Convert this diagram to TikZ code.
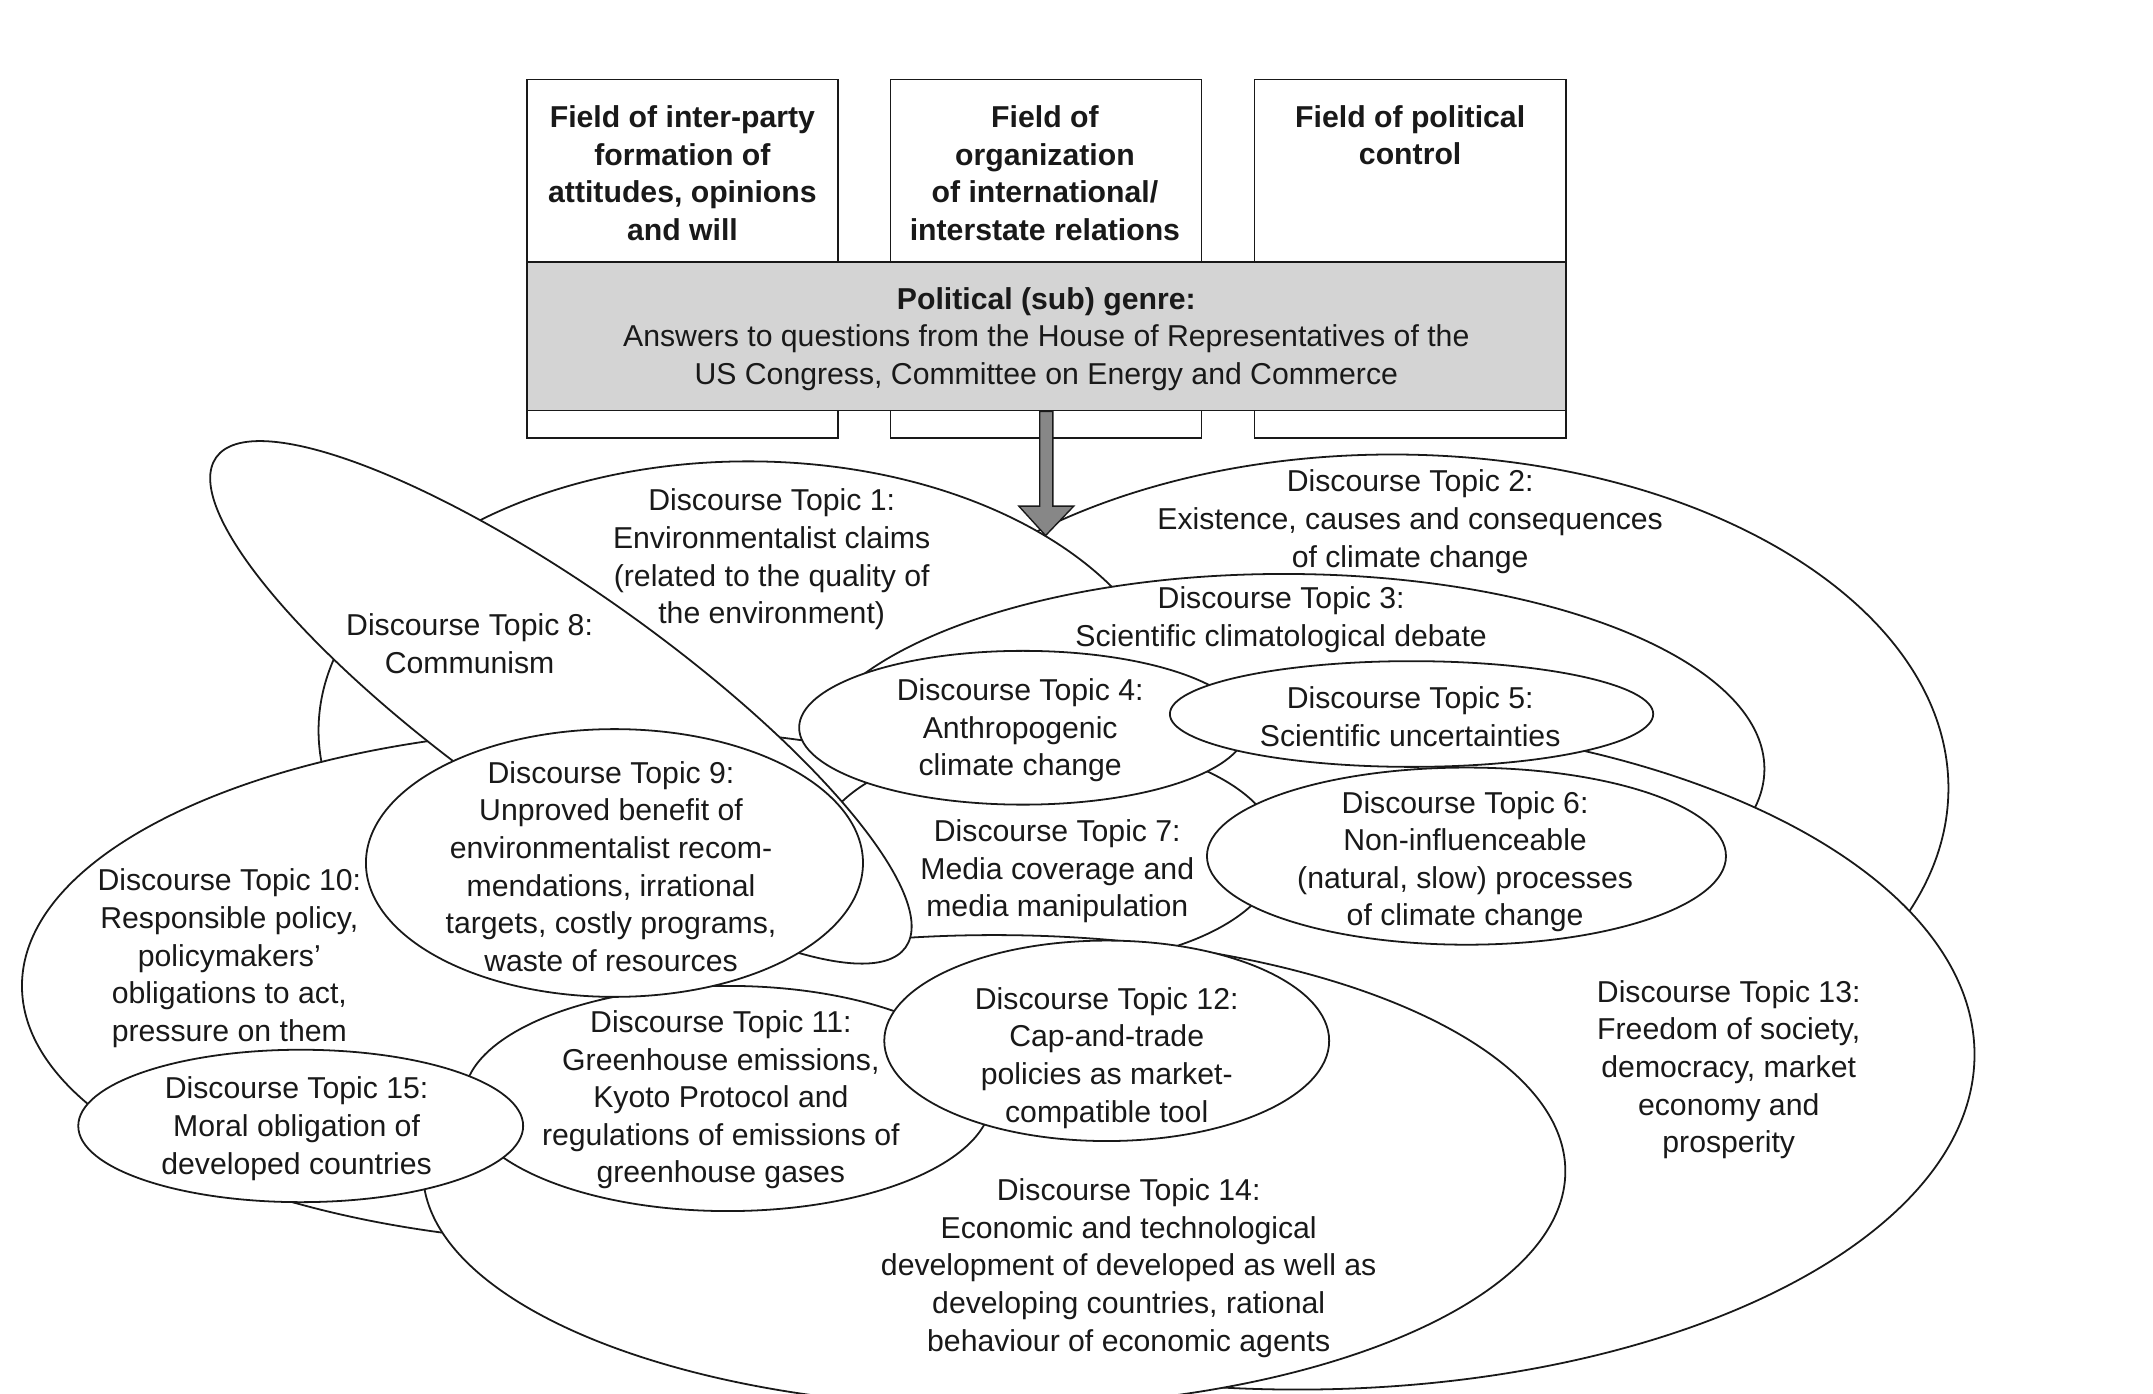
\documentclass[tikz,border=0pt]{standalone}
\usepackage{fontspec}
\setmainfont{Liberation Sans}
\usetikzlibrary{calc}
\definecolor{linecol}{RGB}{25,25,25}
\definecolor{genrefill}{RGB}{212,212,212}
\definecolor{arrowfill}{RGB}{135,135,135}
\definecolor{txtcol}{RGB}{25,25,25}
\begin{document}
\begin{tikzpicture}[x=1pt,y=-1pt,
  ell/.style={draw=linecol,fill=white,line width=1.3pt},
  lbl/.style={align=center,font=\fontsize{22}{27.4}\selectfont,inner sep=0pt,text=txtcol},
  fieldlbl/.style={align=center,font=\fontsize{22}{27.4}\selectfont\bfseries,inner sep=0pt,text=txtcol},
  colbox/.style={draw=linecol,fill=white,line width=1.2pt,minimum width=226.5pt,minimum height=261pt,inner sep=0pt},
  genrebox/.style={draw=linecol,fill=genrefill,line width=1.2pt,minimum width=756pt,minimum height=108pt,inner sep=0pt},
  arrowst/.style={draw=linecol,fill=arrowfill,line width=1pt,line join=miter}]
\fill[white] (0,0) rectangle (1568,1015);
\useasboundingbox (0,0) rectangle (1568,1015);

% field columns and genre box
\node[colbox] (col1) at (497.25,188.5) {};
\node[colbox] (col2) at (761.75,188.5) {};
\node[colbox] (col3) at (1027,188.5) {};
\node[genrebox] (genre) at (762,245) {};
\node[lbl] (genret) at (762,247) {\textbf{Political (sub) genre:}\\Answers to questions from the House of Representatives of the\\US Congress, Committee on Energy and Commerce};
\node[fieldlbl] (f1) at (497,126) {Field of inter-party\\formation of\\attitudes, opinions\\and will};
\node[fieldlbl] (f2) at (761,126) {Field of\\organization\\of international/\\interstate relations};
\node[fieldlbl] (f3) at (1027,98.5) {Field of political\\control};

% discourse topic ellipses (back to front)
\draw[ell] (1014,574) ellipse [x radius=405, y radius=243];   % 2
\draw[ell] (545,532) ellipse [x radius=313, y radius=196];    % 1
\draw[ell] (935,560) ellipse [x radius=350, y radius=142];    % 3
\draw[ell] (450,718) ellipse [x radius=434, y radius=188];    % 10
\draw[ell] (945,768) ellipse [x radius=493, y radius=244];    % 13
\draw[ell] (763,621) ellipse [x radius=168, y radius=82];     % 7
\draw[ell] (724,853) ellipse [x radius=416, y radius=172];    % 14
\draw[ell] (745,530) ellipse [x radius=163, y radius=56];     % 4
\draw[ell] (1028,520) ellipse [x radius=176, y radius=38.5];  % 5
\draw[ell] (1068,623.5) ellipse [x radius=189, y radius=64.5];% 6
\draw[ell, rotate around={-35.4:(408.5,511.5)}] (408.5,511.5) ellipse [x radius=308, y radius=81]; % 8
\draw[ell] (530,800) ellipse [x radius=192, y radius=82];     % 11
\draw[ell] (447.5,628.5) ellipse [x radius=181, y radius=97.5]; % 9
\draw[ell] (806,758) ellipse [x radius=162, y radius=73];     % 12
\draw[ell] (219,820) ellipse [x radius=162, y radius=55.5];   % 15

% arrow from genre box
\coordinate (tip) at (761.5,390);
\draw[arrowst] ($(genre.south)+(-4.75,0)$) -- ($(genre.south)+(-4.75,69)$) -- ($(genre.south)+(-20,69)$) -- (tip) -- ($(genre.south)+(20,69)$) -- ($(genre.south)+(4.75,69)$) -- ($(genre.south)+(4.75,0)$) -- cycle;

% topic labels
\node[lbl] (t1) at (562,407.5) {Discourse Topic 1:\\Environmentalist claims\\(related to the quality of\\the environment)};
\node[lbl] (t2) at (1027,380) {Discourse Topic 2:\\Existence, causes and consequences\\of climate change};
\node[lbl] (t3) at (933,451.5) {Discourse Topic 3:\\Scientific climatological debate};
\node[lbl] (t4) at (743,532) {Discourse Topic 4:\\Anthropogenic\\climate change};
\node[lbl] (t5) at (1027,522) {Discourse Topic 5:\\Scientific uncertainties};
\node[lbl] (t6) at (1067,627.5) {Discourse Topic 6:\\Non-influenceable\\(natural, slow) processes\\of climate change};
\node[lbl] (t7) at (770,634.5) {Discourse Topic 7:\\Media coverage and\\media manipulation};
\node[lbl] (t8) at (342,469) {Discourse Topic 8:\\Communism};
\node[lbl] (t9) at (445,631) {Discourse Topic 9:\\Unproved benefit of\\environmentalist recom-\\mendations, irrational\\targets, costly programs,\\waste of resources};
\node[lbl] (t10) at (167,698) {Discourse Topic 10:\\Responsible policy,\\policymakers’\\obligations to act,\\pressure on them};
\node[lbl] (t11) at (525,801) {Discourse Topic 11:\\Greenhouse emissions,\\Kyoto Protocol and\\regulations of emissions of\\greenhouse gases};
\node[lbl] (t12) at (806,770.5) {Discourse Topic 12:\\Cap-and-trade\\policies as market-\\compatible tool};
\node[lbl] (t13) at (1259,779) {Discourse Topic 13:\\Freedom of society,\\democracy, market\\economy and\\prosperity};
\node[lbl] (t14) at (822,923.5) {Discourse Topic 14:\\Economic and technological\\development of developed as well as\\developing countries, rational\\behaviour of economic agents};
\node[lbl] (t15) at (216,822) {Discourse Topic 15:\\Moral obligation of\\developed countries};
\end{tikzpicture}
\end{document}
